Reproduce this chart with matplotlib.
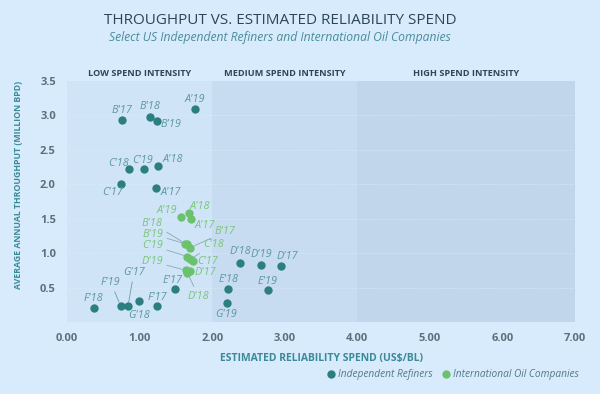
import matplotlib
matplotlib.use('Agg')
import matplotlib.pyplot as plt
from matplotlib.lines import Line2D

plt.rcParams['font.family'] = ['Open Sans', 'DejaVu Sans']

# Independent refiners
ref_labels = ["A'17", "A'18", "A'19", "B'17", "B'18", "B'19", "C'17", "C'18", "C'19",
              "D'17", "D'18", "D'19", "E'17", "E'18", "E'19", "F'17", "F'18", "F'19",
              "G'17", "G'18", "G'19"]
ref_spend = [1.22, 1.25, 1.76, 0.76, 1.15, 1.24, 0.74, 0.86, 1.06,
             2.95, 2.39, 2.68, 1.49, 2.22, 2.77, 1.24, 0.37, 0.74,
             0.84, 0.99, 2.20]
ref_thru = [1.94, 2.27, 3.09, 2.93, 2.98, 2.92, 2.01, 2.22, 2.22,
            0.81, 0.86, 0.83, 0.48, 0.48, 0.46, 0.23, 0.21, 0.23,
            0.23, 0.30, 0.27]

# International oil companies
ioc_labels = ["A'17", "A'18", "A'19", "B'17", "B'18", "B'19", "C'17", "C'18", "C'19",
              "D'17", "D'18", "D'19"]
ioc_spend = [1.71, 1.68, 1.57, 1.70, 1.63, 1.65, 1.74, 1.70, 1.66, 1.70, 1.66, 1.64]
ioc_thru = [1.49, 1.58, 1.53, 1.08, 1.14, 1.13, 0.88, 0.91, 0.95, 0.74, 0.71, 0.75]

bands = [(0, 2, 'LOW SPEND INTENSITY'), (2, 4, 'MEDIUM SPEND INTENSITY'),
         (4, 7, 'HIGH SPEND INTENSITY')]

# label offsets in pixels (dx, dy) and whether a leader line is drawn
ref_off = {"A'17": (15, -4), "A'18": (15, 6), "A'19": (0, 10), "B'17": (0, 10),
           "B'18": (0, 10), "B'19": (14, -4), "C'17": (-8, -9), "C'18": (-11, 6),
           "C'19": (-1, 9), "D'17": (6, 10), "D'18": (0, 11), "D'19": (0, 10),
           "E'17": (-3, 8), "E'18": (0, 9), "E'19": (0, 9), "F'17": (0, 9),
           "F'18": (0, 9), "F'19": (-10, 24), "G'17": (6, 34), "G'18": (0, -14),
           "G'19": (-1, -11)}
ref_lines = {"F'19", "G'17"}
ioc_off = {"A'17": (14, -6), "A'18": (11, 7), "A'19": (-14, 6), "B'17": (35, 16),
           "B'18": (-33, 20), "B'19": (-34, 10), "C'17": (14, 0), "C'18": (23, 15),
           "C'19": (-35, 11), "D'17": (15, -1), "D'18": (11, -23), "D'19": (-34, 9)}
ioc_lines = {"B'17", "B'18", "B'19", "C'18", "C'19", "D'18", "D'19"}

bg = '#d7ebfc'
ref_color = '#2b7f80'
ioc_color = '#6cc26c'
band_colors = ['#cfe4f7', '#c7dcf1', '#c1d6eb']

fig = plt.figure(figsize=(6, 3.94), dpi=100, facecolor=bg)
ax = fig.add_axes([67 / 600, 1 - 322 / 394, 508 / 600, 241 / 394])
ax.set_facecolor('none')

for (x0, x1, name), c in zip(bands, band_colors):
    ax.axvspan(x0, x1, color=c, zorder=0, lw=0)
    ax.text((x0 + x1) / 2, 3.54, name, ha='center', va='bottom', fontsize=6.6,
            fontweight='bold', color='#2e4657', clip_on=False)

for yv in [0.5, 1.0, 1.5, 2.0, 2.5, 3.0]:
    ax.axhline(yv, color='#e2effb', lw=0.6, ls=(0, (1, 2)), zorder=1)

ax.scatter(ref_spend, ref_thru, s=36, color=ref_color, zorder=3, lw=0)
ax.scatter(ioc_spend, ioc_thru, s=36, color=ioc_color, zorder=3, lw=0)

def label_points(labels, xs, ys, offsets, lines, color, line_color):
    for lab, x, y in zip(labels, xs, ys):
        dx, dy = offsets[lab]
        props = None
        if lab in lines:
            props = dict(arrowstyle='-', color=line_color, lw=0.6, shrinkA=1, shrinkB=3)
        ax.annotate(lab, (x, y), xytext=(dx, dy), textcoords='offset pixels',
                    ha='center', va='center', fontsize=7.8, style='italic',
                    color=color, arrowprops=props, zorder=4)

label_points(ref_labels, ref_spend, ref_thru, ref_off, ref_lines, '#5e97a0', '#6e9aa6')
label_points(ioc_labels, ioc_spend, ioc_thru, ioc_off, ioc_lines, '#7cc47c', '#8aa8b4')

ax.set_xlim(0, 7)
ax.set_ylim(0, 3.5)
ax.set_xticks(range(8))
ax.set_xticklabels(['%.2f' % v for v in range(8)])
ax.set_yticks([0.5, 1.0, 1.5, 2.0, 2.5, 3.0, 3.5])
ax.set_yticklabels(['0.5', '1.0', '1.5', '2.0', '2.5', '3.0', '3.5'])
ax.tick_params(length=0, labelsize=8, labelcolor='#5b6f7c', pad=8)
for t in ax.get_xticklabels() + ax.get_yticklabels():
    t.set_fontweight('bold')
for s in ax.spines.values():
    s.set_visible(False)

ax.set_xlabel('ESTIMATED RELIABILITY SPEND (US$/BL)', fontsize=7.5, fontweight='bold',
              color='#3b8a96')
ax.xaxis.set_label_coords(0.5, -(353 - 322) / 241)
ax.set_ylabel('AVERAGE ANNUAL THROUGHPUT (MILLION BPD)', fontsize=6.3, fontweight='bold',
              color='#3b8a96')
ax.yaxis.set_label_coords((23 - 67) / 508, (322 - 185) / 241)

fig.text(280 / 600, 1 - 21 / 394, 'THROUGHPUT VS. ESTIMATED RELIABILITY SPEND', ha='center',
         va='center', fontsize=11, color='#2c4656')
fig.text(280 / 600, 1 - 37 / 394, 'Select US Independent Refiners and International Oil Companies',
         ha='center', va='center', fontsize=8.7, style='italic', color='#4b8c99')

handles = [Line2D([], [], marker='o', ls='', color=ref_color, markersize=5),
           Line2D([], [], marker='o', ls='', color=ioc_color, markersize=5)]
leg = fig.legend(handles, ['Independent Refiners', 'International Oil Companies'],
                 loc='center', bbox_to_anchor=(452 / 600, 1 - 375 / 394), ncol=2,
                 frameon=False, fontsize=7.3, handletextpad=0.2, columnspacing=0.8,
                 handlelength=1)
for t in leg.get_texts():
    t.set_style('italic')
    t.set_color('#55788a')

fig.savefig('out.png', dpi=100, facecolor=bg)
